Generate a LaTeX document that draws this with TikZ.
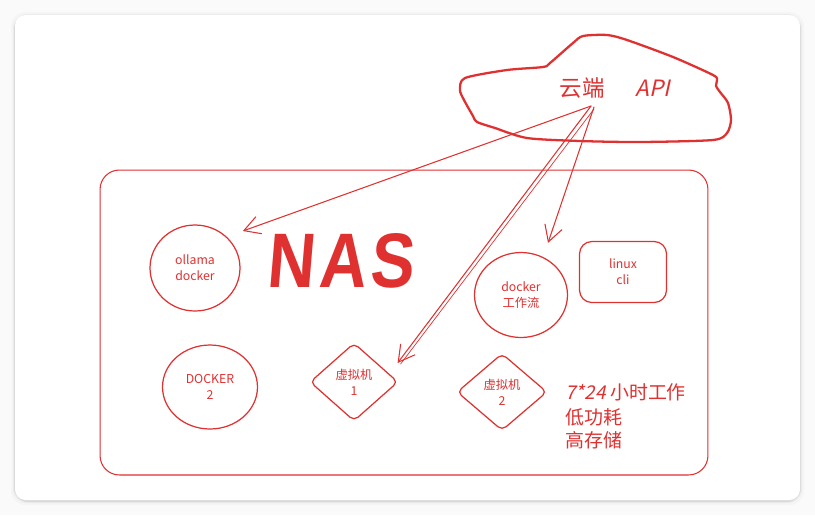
\documentclass[tikz,border=0pt]{standalone}
\usepackage{fontspec}
\newfontfamily\cjk{Noto Sans CJK SC}
\newfontfamily\cjkit[FakeSlant=0.22]{Noto Sans CJK SC}
\newfontfamily\nasfont[FakeSlant=0.1]{Liberation Sans Bold}
\usetikzlibrary{shapes.geometric,arrows.meta}
\definecolor{exred}{HTML}{E03131}
\begin{document}
\begin{tikzpicture}[x=0.02cm, y=-0.02cm, line join=round, line cap=round, >={Straight Barb[length=3.2mm,width=3.6mm]}, font=\cjk\fontsize{7}{9}\selectfont]
    \tikzset{ring/.style={draw=exred, line width=0.7pt, ellipse, inner sep=0pt, text=exred, align=center},
             vm/.style={draw=exred, line width=0.7pt, diamond, rounded corners=3pt, inner sep=0pt, text=exred, align=center, minimum width=1.76cm, minimum height=1.56cm},
             arr/.style={->, draw=exred, line width=0.6pt}}
    % background and card
    \fill[gray!4] (0,0) rectangle (815,515);
    \foreach \d/\o in {4/2, 2/4, 1/7} \fill[black, opacity=0.0\o, rounded corners=8pt] (15-\d,15-\d+1) rectangle (800+\d,500+\d+1);
    \fill[white, rounded corners=6pt] (15,15) rectangle (800,500);
    % cloud
    \draw[exred, line width=1.3pt] plot[smooth cycle, tension=0.45] coordinates {(460,90) (465,78) (507,70) (543,67) (550,63) (573,43) (583,36) (607,35) (627,40) (673,57) (713,75) (717,80) (716,86) (720,92) (728,103) (731,120) (727,133) (713,140) (640,142) (580,141) (527,138) (495,128) (477,122) (473,116) (464,100)};
    \node[text=exred, font=\cjk\fontsize{12.8}{14}\selectfont] (cloudcn) at (582,88) {云端};
    \node[text=exred, font=\cjkit\fontsize{12.8}{14}\selectfont] (cloudapi) at (653,88) {API};
    \coordinate (src) at (591,106);
    % NAS frame
    \node[draw=exred, line width=0.6pt, rounded corners=11pt, minimum width=12.16cm, minimum height=6.1cm] (nasbox) at (404,322.5) {};
    \node[text=exred, font=\nasfont\fontsize{44}{44}\selectfont, xscale=0.85, inner sep=0pt] (naslabel) at (340,261) {N\hspace{0.06em}A\hspace{0.06em}S};
    % nodes
    \node[ring, minimum width=1.8cm, minimum height=1.72cm] (ollama) at (195,268) {ollama\\docker};
    \node[ring, minimum width=1.86cm, minimum height=1.7cm] (flow) at (521,295) {docker\\工作流};
    \node[draw=exred, line width=0.7pt, rounded corners=7pt, minimum width=1.74cm, minimum height=1.22cm, text=exred, align=center] (cli) at (623,272) {linux\\cli};
    \node[ring, minimum width=1.9cm, minimum height=1.68cm] (dock) at (210,387) {DOCKER\\2};
    \node[vm] (vm1) at (354,382) {虚拟机\\1};
    \node[vm, minimum width=1.8cm, minimum height=1.54cm] (vm2) at (502,392) {虚拟机\\2};
    \foreach \y/\name/\txt in {392/lineA/{{\cjkit 7*24} 小时工作}, 417/lineB/低功耗, 440/lineC/高存储}
        \node[anchor=west, inner sep=0pt, text=exred, font=\cjk\fontsize{10.8}{12}\selectfont] (\name) at (565,\y) {\txt};
    % arrows
    \draw[arr] (src) -- ([shift={(12,-10)}]ollama.37);
    \draw[arr] (src) -- ([shift={(-1,-19)}]vm1.east);
    \draw[exred, line width=0.4pt] ([shift={(3,3)}]src) -- ([shift={(2,-18)}]vm1.east);
    \draw[arr] ([shift={(3,1)}]src) -- ([shift={(27,-9)}]flow.north);
\end{tikzpicture}
\end{document}
